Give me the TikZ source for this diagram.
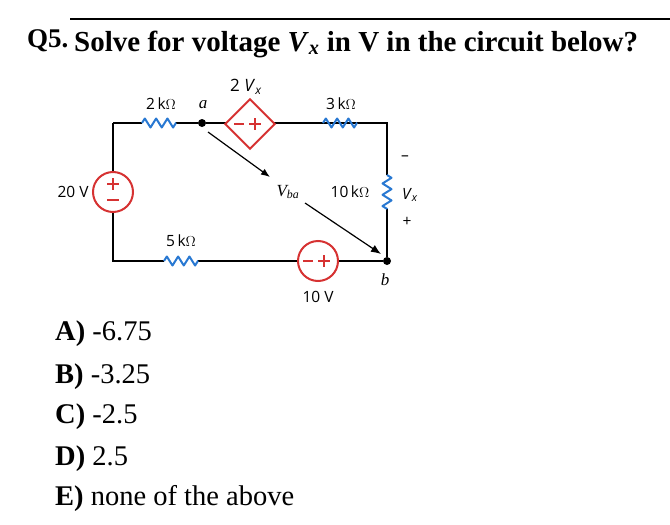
\documentclass[tikz,border=0pt]{standalone}
\usepackage{fontspec}
\setmainfont{Liberation Serif}
\newfontfamily\cirf{Open Sans}
\usetikzlibrary{decorations.pathmorphing,arrows.meta}
\definecolor{cred}{RGB}{214,50,50}
\definecolor{cblue}{RGB}{40,120,210}
\begin{document}
\begin{tikzpicture}[x=1pt,y=-1pt,
  wire/.style={line width=2.8pt},
  res/.style={cblue,line width=2pt,line join=round,decorate,decoration={zigzag,segment length=11.3pt,amplitude=4.5pt}},
  src/.style={circle,draw=cred,line width=2pt,fill=white,minimum size=40pt,inner sep=0pt},
  lab/.style={font=\cirf\fontsize{15.5}{15.5}\selectfont,inner sep=0pt},
  ilab/.style={font=\fontsize{17}{17}\selectfont\itshape,inner sep=0pt},
  ans/.style={font=\fontsize{28.5}{28.5}\selectfont,anchor=base west,inner sep=0pt},
  dot/.style={circle,fill=black,minimum size=8pt,inner sep=0pt}]
\useasboundingbox (0,0) rectangle (670,525);
\draw[line width=1.6pt] (70,19) -- (670,19);
\node[anchor=base west,inner sep=0pt,font=\fontsize{27}{27}\selectfont\bfseries] (q) at (27,47) {Q5.};
\node[anchor=base west,inner sep=0pt,font=\fontsize{29}{29}\selectfont\bfseries] (t) at (74,51) {Solve for voltage \textit{V}\textsubscript{\textit{x}} in V in the circuit below?};
% coordinates
\coordinate (tl) at (113,123); \coordinate (tr) at (387,123);
\coordinate (bl) at (113,261);
\coordinate (r2a) at (142,123); \coordinate (r2b) at (176,123);
\coordinate (r3a) at (323,123); \coordinate (r3b) at (357,123);
\coordinate (r10a) at (387,175); \coordinate (r10b) at (387,209);
\coordinate (r5a) at (164,261); \coordinate (r5b) at (198,261);
\node[dot] (a) at (202,123) {};
\node[dot] (b) at (387,261) {};
\draw[wire] (tl) -- (r2a) (r2b) -- (a) -- (tr) -- (r10a) (r10b) -- (b) -- (r5b) (r5a) -- (bl) -- (tl);
\draw[res] (r2a) -- (r2b);
\draw[res] (r3a) -- (r3b);
\draw[res] (r5a) -- (r5b);
\draw[res] (r10a) -- (r10b);
\node[src] (s20) at (113,192) {};
\draw[cred,line width=1.5pt] (113,178) -- (113,190) (107,184) -- (119,184) (107,200) -- (119,200);
\node[src] (s10) at (318,261) {};
\draw[cred,line width=1.5pt] (303,261) -- (313,261) (318,261) -- (330,261) (324,255) -- (324,267);
\node[draw=cred,fill=white,line width=2pt,minimum size=35pt,inner sep=0pt,rotate=45] (dep) at (250,124) {};
\draw[cred,line width=1.5pt] (234,124) -- (244,124) (249,124) -- (261,124) (255,118) -- (255,130);
\draw[line width=1.2pt,-{Latex[length=9pt,width=7pt]}] (208,132) -- (270,177);
\draw[line width=1.2pt,-{Latex[length=10pt,width=8pt]}] (305,203) -- (381,254);
% labels
\node[lab] (l2k) at (161,104) {2\,k$\Omega$};
\node[ilab] (la) at (203,105) {a};
\node[lab,font=\cirf\fontsize{17}{17}\selectfont] (lvx) at (246,87) {2 \textit{V}\textsubscript{\textit{x}}};
\node[lab] (l3k) at (341,104) {3\,k$\Omega$};
\node[lab] (l20) at (73,192) {20 V};
\node[ilab] (lvba) at (288,192) {V\textsubscript{ba}};
\node[lab] (l10k) at (350,192) {10\,k$\Omega$};
\node[lab] (lvx2) at (410,195) {\textit{V}\textsubscript{\textit{x}}};
\node[lab] (lm) at (405,158) {\textendash};
\node[lab] (lp) at (407,222) {+};
\node[lab] (l5k) at (181,241) {5\,k$\Omega$};
\node[ilab] (lb) at (385,280) {b};
\node[lab] (l10v) at (318,297) {10 V};
% answers
\node[ans] (A) at (55,340) {\textbf{A)} -6.75};
\node[ans] (B) at (55,383) {\textbf{B)} -3.25};
\node[ans] (C) at (55,423) {\textbf{C)} -2.5};
\node[ans] (D) at (55,465) {\textbf{D)} 2.5};
\node[ans] (E) at (55,505) {\textbf{E)} none of the above};
\end{tikzpicture}
\end{document}
